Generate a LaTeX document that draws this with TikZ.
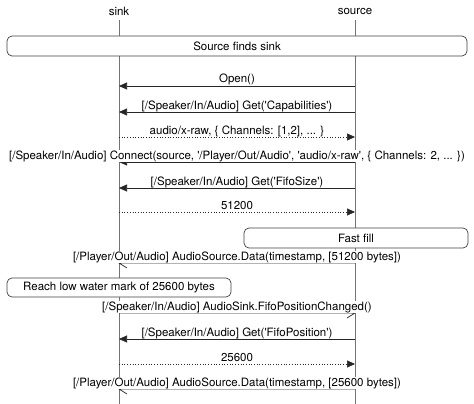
\documentclass[tikz,border=0pt]{standalone}
\usepackage{fontspec}
\setmainfont{TeX Gyre Heros}[Ligatures=TeXOff]
\usetikzlibrary{arrows.meta,calc}
\begin{document}
\begin{tikzpicture}[x=1pt,y=-1pt,
  every node/.style={font=\fontsize{11.5}{13}\selectfont},
  life/.style={draw=black!55, line width=0.8pt},
  msg/.style={draw=black!85, line width=0.7pt, -{Triangle[length=8pt,width=7pt]}},
  reply/.style={msg, dotted},
  asyncmsg/.style={draw=black!85, line width=0.7pt},
  lbl/.style={fill=white, inner sep=0.6pt, anchor=base},
  boxnote/.style={draw=black!75, fill=white, rounded corners=5pt, line width=0.7pt, inner sep=0pt, anchor=center}
]
\useasboundingbox (0,0) rectangle (474,404);
% heads
\node (sink) at (119,11) {sink};
\node (source) at (355,11) {source};
\coordinate (sinkend) at (119,404);
\coordinate (sourceend) at (355,404);
\draw[life] (119,20) -- (sinkend);
\draw[life] (355,20) -- (sourceend);
% box 1
\node[boxnote, minimum width=460pt, minimum height=20pt] (b1) at (237,46) {Source finds sink};
% message coordinates
\foreach \n/\y in {1/86,2/112,3/137,4/162,5/188,6/212,7/263,8/313,9/339,10/364,11/389} {
  \coordinate (k\n) at (119,\y);
  \coordinate (r\n) at (355,\y);
}
\draw[msg] (r1) -- (k1);
\node[lbl] (l1) at ([yshift=3pt]$(k1)!0.5!(r1)$) {Open()};
\draw[msg] (r2) -- (k2);
\node[lbl] (l2) at ([yshift=3pt]$(k2)!0.5!(r2)$) {[/Speaker/In/Audio] Get('Capabilities')};
\draw[reply] (k3) -- (r3);
\node[lbl] (l3) at ([yshift=3pt]$(k3)!0.5!(r3)$) {audio/x-raw, \{ Channels: [1,2], ... \}};
\draw[msg] (r4) -- (k4);
\node[lbl] (l4) at ([yshift=3pt]$(k4)!0.5!(r4)$) {[/Speaker/In/Audio] Connect(source, '/Player/Out/Audio', 'audio/x-raw', \{ Channels: 2, ... \})};
\draw[msg] (r5) -- (k5);
\node[lbl] (l5) at ([yshift=3pt]$(k5)!0.5!(r5)$) {[/Speaker/In/Audio] Get('FifoSize')};
\draw[reply] (k6) -- (r6);
\node[lbl] (l6) at ([yshift=3pt]$(k6)!0.5!(r6)$) {51200};
% box fast fill
\node[boxnote, minimum width=224pt, minimum height=20pt] (b2) at (356,238) {Fast fill};
% async data
\draw[asyncmsg] (r7) -- (k7) -- ++(8,5);
\node[lbl] (l7) at ([yshift=3pt]$(k7)!0.5!(r7)$) {[/Player/Out/Audio] AudioSource.Data(timestamp, [51200 bytes])};
% box low water
\node[boxnote, minimum width=224pt, minimum height=19pt] (b3) at (119,287.5) {Reach low water mark of 25600 bytes};
\draw[asyncmsg] (k8) -- (r8) -- ++(-8,5);
\node[lbl] (l8) at ([yshift=3pt]$(k8)!0.5!(r8)$) {[/Speaker/In/Audio] AudioSink.FifoPositionChanged()};
\draw[msg] (r9) -- (k9);
\node[lbl] (l9) at ([yshift=3pt]$(k9)!0.5!(r9)$) {[/Speaker/In/Audio] Get('FifoPosition')};
\draw[reply] (k10) -- (r10);
\node[lbl] (l10) at ([yshift=3pt]$(k10)!0.5!(r10)$) {25600};
\draw[asyncmsg] (r11) -- (k11) -- ++(8,5);
\node[lbl] (l11) at ([yshift=3pt]$(k11)!0.5!(r11)$) {[/Player/Out/Audio] AudioSource.Data(timestamp, [25600 bytes])};
\end{tikzpicture}
\end{document}
